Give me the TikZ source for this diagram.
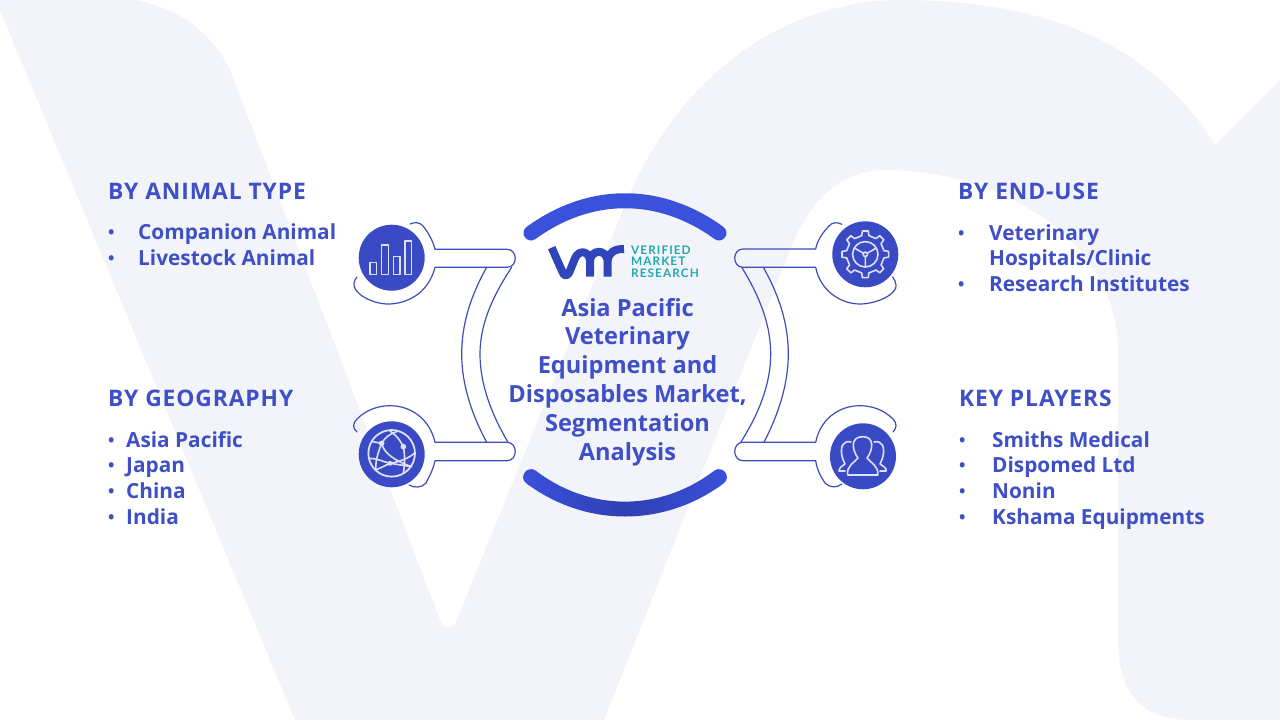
\documentclass[tikz,border=0pt]{standalone}
\usepackage{fontspec}
\setmainfont{Open Sans}
\newfontfamily\logofont{Lato}
\usetikzlibrary{positioning}
\definecolor{bgtint}{HTML}{F2F4FA}
\definecolor{inkblue}{HTML}{3F4FC6}
\definecolor{ringblue}{HTML}{3A51DC}
\definecolor{ringdark}{HTML}{2F3FB4}
\definecolor{lineblue}{HTML}{3C4DB8}
\definecolor{discblue}{HTML}{3A4AC4}
\definecolor{iconline}{HTML}{DDE1F5}
\definecolor{logoteal}{HTML}{1FA9AE}
\newcommand{\bull}[1]{\makebox[#1][l]{\raisebox{1pt}{\fontsize{17}{17}\selectfont\textbullet}}}
\begin{document}
\begin{tikzpicture}
[x=1pt,y=-1pt,
heading/.style={inner sep=0pt, anchor=west, text=inkblue, font={\fontsize{22.8}{26}\bfseries\addfontfeatures{LetterSpace=4}\selectfont}},
listbox/.style={inner sep=0pt, anchor=north west, align=left, text=inkblue, font={\fontsize{20.8}{25.8}\bfseries\selectfont}},
titlebox/.style={inner sep=0pt, align=center, text=inkblue, font={\fontsize{23.6}{28.8}\bfseries\selectfont}},
logotext/.style={inner sep=0pt, anchor=north west, align=left, text=logoteal, font={\logofont\fontsize{11.8}{11.6}\bfseries\addfontfeatures{LetterSpace=9}\selectfont}},
disc/.style={circle, fill=discblue, minimum size=66pt, inner sep=0pt},
outline/.style={draw=lineblue, line width=1.2pt, line cap=round, line join=round},
icon/.style={draw=iconline, line width=1.6pt, line join=round, line cap=round},
logostroke/.style={draw=ringblue!85!black, line width=8pt},
ring/.style={line width=15pt, line cap=round}]

\useasboundingbox (0,0) rectangle (1280,720);
\fill[bgtint] (0,0) -- (135,0) .. controls (190,10) and (220,45) .. (232,75)
  -- (440,620) .. controls (443,630) and (453,630) .. (457,620) -- (625,205)
  .. controls (680,70) and (790,0) .. (900,0) .. controls (1040,0) and (1150,40) .. (1215,145)
  -- (1280,80) -- (1280,720) -- (1190,720) .. controls (1140,720) and (1118,690) .. (1118,640)
  -- (1118,350) .. controls (1118,240) and (1000,170) .. (885,170)
  .. controls (840,170) and (810,200) .. (790,250) -- (604,720) -- (295,720) -- (0,10) -- cycle;

\draw[ring, ringblue] (531,233) .. controls (590,190) and (660,190) .. (719,233);
\shade[left color=ringblue, right color=ringblue, middle color=ringdark]
  (526.5,483.5) .. controls (586,527.5) and (664,527.5) .. (723.5,483.5)
  .. controls (732,477) and (723,465) .. (714.5,470.5)
  .. controls (660,512) and (590,512) .. (535.5,470.5)
  .. controls (527,465) and (518,477) .. (526.5,483.5) -- cycle;

\node[disc] (animal) at (391.7,257.7) {};
\node[disc] (geo) at (391.7,454.3) {};
\node[disc] (enduse) at (865.3,254.3) {};
\node[disc] (players) at (863,456.3) {};

\draw[outline] (410,224) .. controls (414,222) and (420,222) .. (423,226) .. controls (428,232) and (433,241) .. (435,249.3)
  -- (507,249.3) .. controls (518,249.3) and (518,267.3) .. (507,267.3) -- (435,267.3)
  .. controls (428,295) and (405,304) .. (388,304) .. controls (372,304) and (352,293) .. (354,283) .. controls (354,281) and (356,278) .. (357,277);
\draw[outline] (486.7,267.3) .. controls (470,297) and (461.7,325) .. (461.7,354) .. controls (461.7,385) and (472,415) .. (486.7,442.3);
\draw[outline] (511.7,267.3) .. controls (492,297) and (480,325) .. (480,354) .. controls (480,385) and (492,415) .. (508,442.3);
\draw[outline] (357,432) .. controls (352,428) and (353,423) .. (357,419) .. controls (366,410) and (378,405.7) .. (390,405.7) .. controls (412,405.7) and (430,420) .. (435,442.3)
  -- (507,442.3) .. controls (518,442.3) and (518,460.7) .. (507,460.7) -- (435,460.7)
  .. controls (433,470) and (429,477) .. (426,483) .. controls (422,488) and (414,488) .. (409,485);

\draw[outline] (841.7,224.3) .. controls (838,222) and (832,222) .. (829,226) .. controls (823,232) and (817,241) .. (815.7,249)
  -- (743,249) .. controls (732,249) and (732,267.3) .. (743,267.3) -- (815.7,267.3)
  .. controls (820,290) and (840,304) .. (860,304) .. controls (878,304) and (898,293) .. (896,285) .. controls (896,282) and (894,279) .. (892.7,277);
\draw[outline] (763.3,267.3) .. controls (780,297) and (788.3,325) .. (788.3,354) .. controls (788.3,385) and (778,415) .. (764,442.3);
\draw[outline] (741.7,267.3) .. controls (760,297) and (770.7,325) .. (770.7,354) .. controls (770.7,385) and (758,415) .. (740.7,442.3);
\draw[outline] (893,432) .. controls (897,428) and (897,423) .. (893,419) .. controls (884,410) and (872,405.7) .. (860,405.7) .. controls (838,405.7) and (820,420) .. (815.7,442.3)
  -- (743,442.3) .. controls (732,442.3) and (732,460.7) .. (743,460.7) -- (815.7,460.7)
  .. controls (817,470) and (821,477) .. (825,483) .. controls (830,488) and (837,488) .. (841.7,484);

\draw[icon, line width=1.4pt] (370,262.3) rectangle (376.7,274.3) (381.7,245) rectangle (388.3,274.3)
  (393.3,256.7) rectangle (400,274.3) (405,241) rectangle (411.7,274.3);

\begin{scope}[shift={(350,415)}, x=0.3333pt, y=-0.3333pt]
\draw[icon, line width=1.8pt] (125,115) circle (23.3pt);
\draw[icon] (68,80) -- (95,85) .. controls (105,65) and (125,55) .. (140,50);
\draw[icon] (95,85) .. controls (85,110) and (75,140) .. (78,165) -- (120,145);
\draw[icon] (95,85) .. controls (100,115) and (140,140) .. (185,155) -- (120,145);
\draw[icon] (120,48) .. controls (145,65) and (155,85) .. (160,95) .. controls (165,120) and (165,145) .. (160,175);
\draw[icon] (58,130) .. controls (80,130) and (100,140) .. (120,145) .. controls (150,140) and (175,130) .. (193,115);
\fill[iconline] (95,85) circle (2.8pt) (160,95) circle (2.8pt) (120,145) circle (2.4pt);
\end{scope}

\begin{scope}[shift={(enduse.center)}, y=1pt]
\draw[icon] (-11:19) \foreach \a in {0,45,...,315} {
  -- ({\a-11}:19) -- ({\a-7}:23.5) -- ({\a+7}:23.5) -- ({\a+11}:19)} -- cycle;
\draw[icon] (0,0) circle (12.7pt) (0,0) circle (2.2pt);
\draw[icon] (0,-2.2) -- (0,-12.7) (1.9,1.1) -- (11,6.3) (-1.9,1.1) -- (-11,6.3);
\end{scope}

\draw[icon] (847.7,475) -- (877.7,475) .. controls (879,466) and (870,462) .. (867,458)
  .. controls (873,450) and (875,436.7) .. (862.7,436.7) .. controls (850,436.7) and (852,450) .. (858,458)
  .. controls (855,462) and (846,466) .. (847.7,475);
\draw[icon] (851,442) .. controls (843,440) and (840,447) .. (842,456) .. controls (843,461) and (845,463) .. (845,464)
  .. controls (842,466) and (839,468) .. (839,471) -- (845,471);
\draw[icon] (874,442) .. controls (882,440) and (885,447) .. (883,456) .. controls (882,461) and (880,463) .. (880,464)
  .. controls (883,466) and (887,468) .. (886,471) -- (880,471);

\begin{scope}[shift={(540,235)}, x=0.3333pt, y=-0.3333pt]
\draw[logostroke, line join=round] (35,38) -- (68,112) .. controls (72,124) and (82,124) .. (88,112) -- (105,70)
  .. controls (115,45) and (145,45) .. (150,75) -- (150,125);
\draw[logostroke] (150,75) .. controls (155,45) and (195,40) .. (203,75) -- (203,125);
\draw[logostroke] (203,75) .. controls (208,50) and (225,42) .. (252,42);
\end{scope}

\node[logotext] (logo) at (631,245.5) {VERIFIED\\MARKET\\RESEARCH};

\node[titlebox] (title) at (627.5,382) {Asia Pacific\\Veterinary\\Equipment and\\Disposables Market,\\Segmentation\\Analysis};

\node[heading] (animalhead) at (108,191.5) {BY ANIMAL TYPE};
\node[listbox] (animallist) at ([yshift=-24pt]animalhead.south west)
  {\bull{30pt}Companion Animal\\\bull{30pt}Livestock Animal};
\node[heading] (geohead) at (108,398.5) {BY GEOGRAPHY};
\node[listbox] (geolist) at ([yshift=-24pt]geohead.south west)
  {\bull{18pt}Asia Pacific\\\bull{18pt}Japan\\\bull{18pt}China\\\bull{18pt}India};
\node[heading] (endhead) at (958,191.5) {BY END-USE};
\node[listbox] (endlist) at ([yshift=-24pt]endhead.south west)
  {\bull{31pt}Veterinary\\\makebox[31pt]{}Hospitals/Clinic\\\bull{31pt}Research Institutes};
\node[heading] (keyhead) at (959,398.5) {KEY PLAYERS};
\node[listbox] (keylist) at ([yshift=-24pt]keyhead.south west)
  {\bull{33pt}Smiths Medical\\\bull{33pt}Dispomed Ltd\\\bull{33pt}Nonin\\\bull{33pt}Kshama Equipments};
\end{tikzpicture}
\end{document}
